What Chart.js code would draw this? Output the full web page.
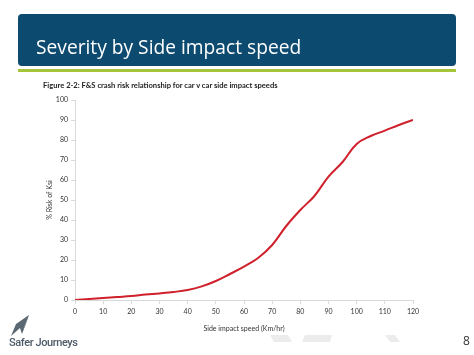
<!DOCTYPE html>
<html>
<head>
<meta charset="utf-8">
<script src="https://cdn.jsdelivr.net/npm/chart.js@4"></script>
<style>
  html,body{margin:0;padding:0;background:#fff;}
  #wrap{position:relative;width:474px;height:355px;overflow:hidden;font-family:"Open Sans",sans-serif;}
  #hdr{position:absolute;left:18px;top:14px;width:438px;height:52px;background:#0D4A6F;border-radius:4px;}
  #hdr span{position:absolute;left:18px;top:21px;color:#fff;font-size:19.2px;line-height:24px;white-space:nowrap;}
  #grn{position:absolute;left:18px;top:69px;width:438px;height:3px;background:#A6C43A;}
  #cap{position:absolute;left:43px;top:80px;font-family:Lato,sans-serif;font-weight:bold;font-size:7.6px;color:#222;white-space:nowrap;}
  #c{position:absolute;left:0;top:0;}
  #pg{position:absolute;left:463px;top:332px;font-size:12px;color:#333;font-family:"Open Sans",sans-serif;}
  #logo{position:absolute;left:9px;top:314px;}
  #logotxt{position:absolute;left:9px;top:336px;font-family:Roboto,sans-serif;font-weight:500;font-size:11px;color:#4d5b68;letter-spacing:-0.4px;white-space:nowrap;}
  #wm{position:absolute;left:260px;top:330px;}
</style>
</head>
<body>
<div id="wrap">
  <canvas id="c" width="474" height="355"></canvas>
  <div id="hdr"><span>Severity by Side impact speed</span></div>
  <div id="grn"></div>
  <div id="cap">Figure 2-2: F&amp;S crash risk relationship for car v car side impact speeds</div>
  <svg id="wm" width="160" height="20">
    <polygon points="10,5 28,5 32,12 14,12" fill="#ececec"/>
    <polygon points="45,5 72,5 70,12 42,12" fill="#ececec"/>
    <polygon points="125,5 135,5 140,12 130,12" fill="#ececec"/>
  </svg>
  <svg id="logo" width="30" height="24">
    <polygon points="20,1 7,10 2,22 11,14 13,20" fill="#5a6873"/>
    <polygon points="20,1 13,20 16,10" fill="#7d8a94"/>
  </svg>
  <div id="logotxt">Safer Journeys</div>
  <div id="pg">8</div>
</div>
<script>
const speeds = [0,5,10,15,20,25,30,35,40,45,50,55,60,65,70,75,80,85,90,95,100,105,110,115,120];
const risk   = [0,0.5,1,1.5,2,2.7,3.3,4,5,6.8,9.5,13,16.7,21,27.5,37,45,52,61.7,69,78,82,84.7,87.5,90];
const xTicks = [0,10,20,30,40,50,60,70,80,90,100,110,120];
const yTicks = [0,10,20,30,40,50,60,70,80,90,100];
const xTitle = 'Side impact speed (Km/hr)';
const yTitle = '% Risk of Ksi';

const font = {family:'Lato, sans-serif', size:7};
new Chart(document.getElementById('c'), {
  type:'line',
  data:{datasets:[{
    data: speeds.map((s,i)=>({x:s,y:risk[i]})),
    borderColor:'#D0202C', borderWidth:2, pointRadius:0, tension:0.4, fill:false
  }]},
  options:{
    responsive:false, animation:false, devicePixelRatio:1,
    layout:{padding:{left:46,right:61,top:100,bottom:22}},
    plugins:{legend:{display:false},tooltip:{enabled:false}},
    scales:{
      x:{type:'linear',min:0,max:120,
        afterBuildTicks:(s)=>{s.ticks=xTicks.map(v=>({value:v}));},
        afterFit:(s)=>{s.height=33;},
        grid:{display:true,drawOnChartArea:false,drawTicks:true,tickLength:4,color:'#d9d9d9'},
        border:{color:'#d9d9d9'},
        ticks:{font, color:'#333', padding:4, maxRotation:0},
        title:{display:true,text:xTitle,font,color:'#333',padding:{top:2,bottom:0}}
      },
      y:{type:'linear',min:0,max:100,
        afterBuildTicks:(s)=>{s.ticks=yTicks.map(v=>({value:v}));},
        afterFit:(s)=>{s.width=29;},
        grid:{display:true,drawOnChartArea:false,drawTicks:true,tickLength:4,color:'#d9d9d9'},
        border:{color:'#d9d9d9'},
        ticks:{font, color:'#333', padding:3},
        title:{display:true,text:yTitle,font,color:'#333',padding:{top:0,bottom:0}}
      }
    }
  }
});
</script>
</body>
</html>
